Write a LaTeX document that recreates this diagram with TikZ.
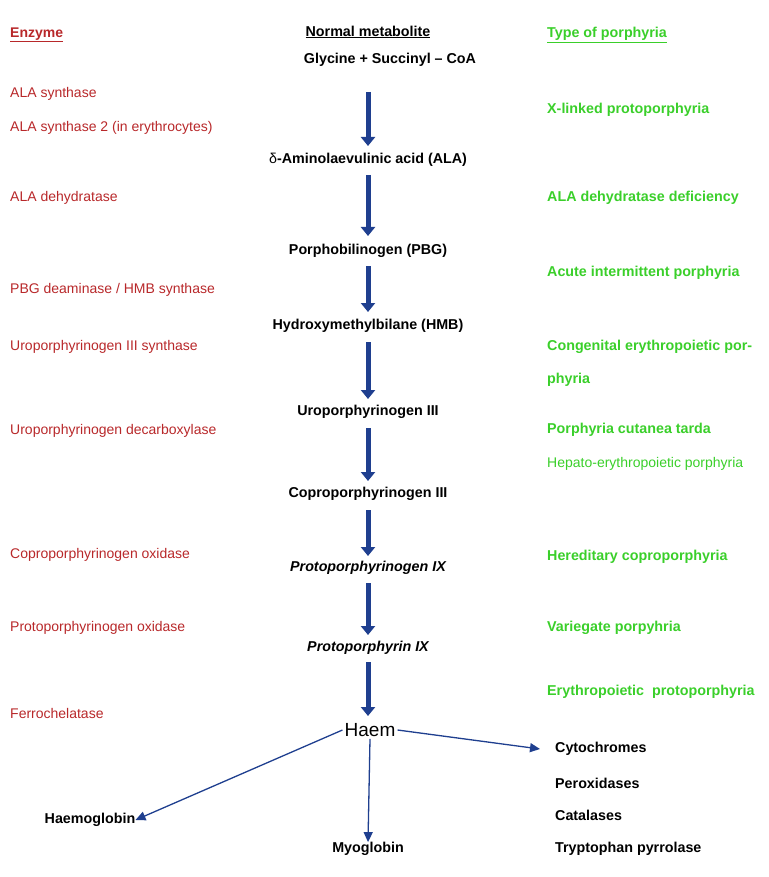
\documentclass[tikz,border=0pt]{standalone}
\usepackage{fontspec}
\setmainfont{Liberation Sans}
\definecolor{enzred}{HTML}{B8282A}
\definecolor{porgreen}{HTML}{3ACF2A}
\definecolor{pathblue}{HTML}{1F3F8F}
\usetikzlibrary{arrows.meta}
\tikzset{
	met/.style = {inner sep = 0pt, font = \fontsize{14.3}{16}\selectfont\bfseries},
	enz/.style = {inner sep = 0pt, anchor = west, text = enzred, font = \fontsize{14}{16}\selectfont},
	typ/.style = {inner sep = 0pt, anchor = west, text = porgreen, font = \fontsize{14.3}{16}\selectfont\bfseries},
	step arrow/.style = {-{Triangle[length=9pt,width=14pt]}, line width = 5pt, pathblue},
	thin arrow/.style = {-{Triangle[length=10pt,width=9pt]}, line width = 1.3pt, pathblue}
}
\begin{document}
\begin{tikzpicture}[x=1pt, y=-1pt]
			\useasboundingbox (0,0) rectangle (768,877);
			% pathway
			\node (h)[met]at (368,32)  {\underline{Normal metabolite}};
			\node (m0)[met]at (390,60)  {Glycine + Succinyl – CoA};
			\node (m1)[met]at (368,160)  {\mdseries δ\bfseries-Aminolaevulinic acid (ALA)};
			\node (m2)[met]at (368,251)  {Porphobilinogen (PBG)};
			\node (m3)[met]at (368,326)  {Hydroxymethylbilane (HMB)};
			\node (m4)[met]at (368,412)  {Uroporphyrinogen III};
			\node (m5)[met]at (368,494)  {Coproporphyrinogen III};
			\node (m6)[met]at (368,568)  {\itshape Protoporphyrinogen IX};
			\node (m7)[met]at (368,648)  {\itshape Protoporphyrin IX};
			\node (m8)[inner sep = 2pt, font = \fontsize{19}{21}\selectfont]at (370,730)  {Haem};

			\draw[step arrow] (368,92)--(368,146);
			\draw[step arrow] (368,175)--(368,236);
			\draw[step arrow] (368,266)--(368,312);
			\draw[step arrow] (368,342)--(368,399);
			\draw[step arrow] (368,428)--(368,481);
			\draw[step arrow] (368,510)--(368,556);
			\draw[step arrow] (368,583)--(368,635);
			\draw[step arrow] (368,662)--(368,716);

			% products of haem
			\node (hb)[met]at (90,820)  {Haemoglobin};
			\node (mb)[met]at (368,849)  {Myoglobin};
			\node (cy)[met, anchor = west]at (555,749)  {Cytochromes};
			\node (px)[met, anchor = west]at (555,783)  {Peroxidases};
			\node (ca)[met, anchor = west]at (555,815)  {Catalases};
			\node (tp)[met, anchor = west]at (555,849)  {Tryptophan pyrrolase};
			\coordinate (cyin) at (540,749);
			\draw[thin arrow] (m8.west)--(hb.east);
			\draw[thin arrow] (m8.south)--(mb.north);
			\draw[thin arrow] (m8.east)--(cyin);

			% enzymes
			\node (e0)[enz, font = \fontsize{14}{16}\selectfont\bfseries]at (10,35)  {\underline{Enzyme}};
			\node (e1)[enz]at (10,94)  {ALA synthase};
			\node (e2)[enz]at (10,128)  {ALA synthase 2 (in erythrocytes)};
			\node (e3)[enz]at (10,198)  {ALA dehydratase};
			\node (e4)[enz]at (10,290)  {PBG deaminase / HMB synthase};
			\node (e5)[enz]at (10,347)  {Uroporphyrinogen III synthase};
			\node (e6)[enz]at (10,431)  {Uroporphyrinogen decarboxylase};
			\node (e7)[enz]at (10,555)  {Coproporphyrinogen oxidase};
			\node (e8)[enz]at (10,628)  {Protoporphyrinogen oxidase};
			\node (e9)[enz]at (10,713)  {Ferrochelatase};

			% porphyrias
			\node (t0)[typ]at (547,35)  {\underline{Type of porphyria}};
			\node (t1)[typ]at (547,110)  {X-linked protoporphyria};
			\node (t2)[typ]at (547,198)  {ALA dehydratase deficiency};
			\node (t3)[typ]at (547,273)  {Acute intermittent porphyria};
			\node (t4)[typ]at (547,347)  {Congenital erythropoietic por-};
			\node (t5)[typ]at (547,380)  {phyria};
			\node (t6)[typ]at (547,430)  {Porphyria cutanea tarda};
			\node (t7)[typ, font = \fontsize{14}{16}\selectfont]at (547,464)  {Hepato-erythropoietic porphyria};
			\node (t8)[typ]at (547,557)  {Hereditary coproporphyria};
			\node (t9)[typ]at (547,628)  {Variegate porpyhria};
			\node (t10)[typ]at (547,692)  {Erythropoietic~ protoporphyria};
		\end{tikzpicture}
\end{document}
